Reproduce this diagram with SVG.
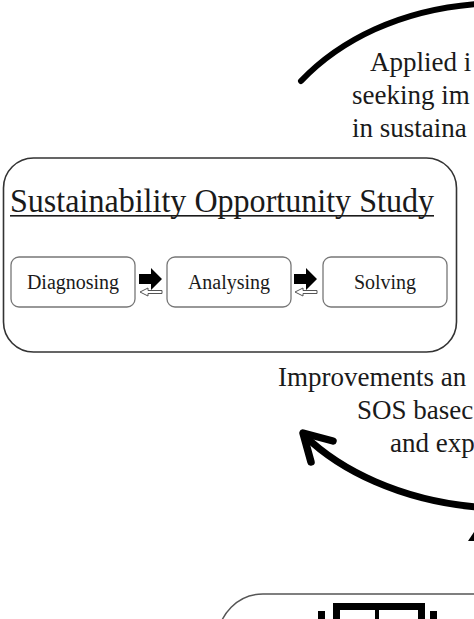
<svg xmlns="http://www.w3.org/2000/svg" width="474" height="619" viewBox="0 0 474 619">
<style>
.lbl{font-family:"Liberation Serif","Times New Roman",serif;fill:#1a1a1a}
.big{font-size:27px}
.step{font-size:20px;text-anchor:middle}
.box{fill:#fff;stroke:#777;stroke-width:1.3}
.ink{fill:#000}
.hollow{fill:#fff;stroke:#555;stroke-width:1}
.thick{fill:none;stroke:#000;stroke-linecap:round;stroke-linejoin:round}
</style>
<rect width="474" height="619" fill="#fff"/>
<g id="connectors">
<path class="thick" d="M301 81 C340 40 400 10 476 4" stroke-width="6" stroke-linecap="butt"/>
<path class="thick" d="M305 436 C340 470 400 500 476 507" stroke-width="7"/>
<path class="thick" d="M333 441 L303 433 L311 462" stroke-width="7.5"/>
<polygon class="ink" points="468,541 474,532 474,541"/>
</g>
<g id="label-top">
<text class="lbl big" x="370" y="71">Applied i</text>
<text class="lbl big" x="352" y="104">seeking im</text>
<text class="lbl big" x="352" y="137">in sustaina</text>
</g>
<g id="label-mid">
<text class="lbl big" x="278" y="386">Improvements an</text>
<text class="lbl big" x="357" y="419">SOS basec</text>
<text class="lbl big" x="390" y="452">and exp</text>
</g>
<g id="sos">
<rect x="3.5" y="158" width="453" height="194" rx="30" fill="#fff" stroke="#333" stroke-width="1.6"/>
<text class="lbl" x="10" y="212" font-size="33" textLength="424" lengthAdjust="spacingAndGlyphs">Sustainability Opportunity Study</text>
<rect x="10" y="215" width="424" height="1.6" fill="#1a1a1a"/>
</g>
<g id="diagnosing">
<rect class="box" x="11" y="257" width="124" height="50" rx="8"/>
<text class="lbl step" x="73" y="289">Diagnosing</text>
</g>
<g id="analysing">
<rect class="box" x="167" y="257" width="124" height="50" rx="8"/>
<text class="lbl step" x="229" y="289">Analysing</text>
</g>
<g id="solving">
<rect class="box" x="323" y="257" width="124" height="50" rx="8"/>
<text class="lbl step" x="385" y="289">Solving</text>
</g>
<g id="step-arrows">
<polygon class="ink" points="139,274 151,274 151,268 162,279 151,290 151,284 139,284"/>
<polygon class="hollow" points="140,292 148,288 148,290.5 162,290.5 162,293.5 148,293.5 148,296"/>
<polygon class="ink" points="294,274 306,274 306,268 317,279 306,290 306,284 294,284"/>
<polygon class="hollow" points="295,292 303,288 303,290.5 317,290.5 317,293.5 303,293.5 303,296"/>
</g>
<g id="bottom-node">
<rect x="218" y="594" width="400" height="200" rx="45" fill="#fff" stroke="#555" stroke-width="1.5"/>
<rect class="ink" x="333" y="603" width="92" height="7"/>
<rect class="ink" x="333" y="603" width="7" height="16"/>
<rect class="ink" x="375" y="609" width="4" height="10"/>
<rect class="ink" x="418" y="603" width="7" height="16"/>
<rect class="ink" x="318" y="611" width="7" height="8"/>
<rect class="ink" x="430" y="611" width="7" height="8"/>
</g>
</svg>
